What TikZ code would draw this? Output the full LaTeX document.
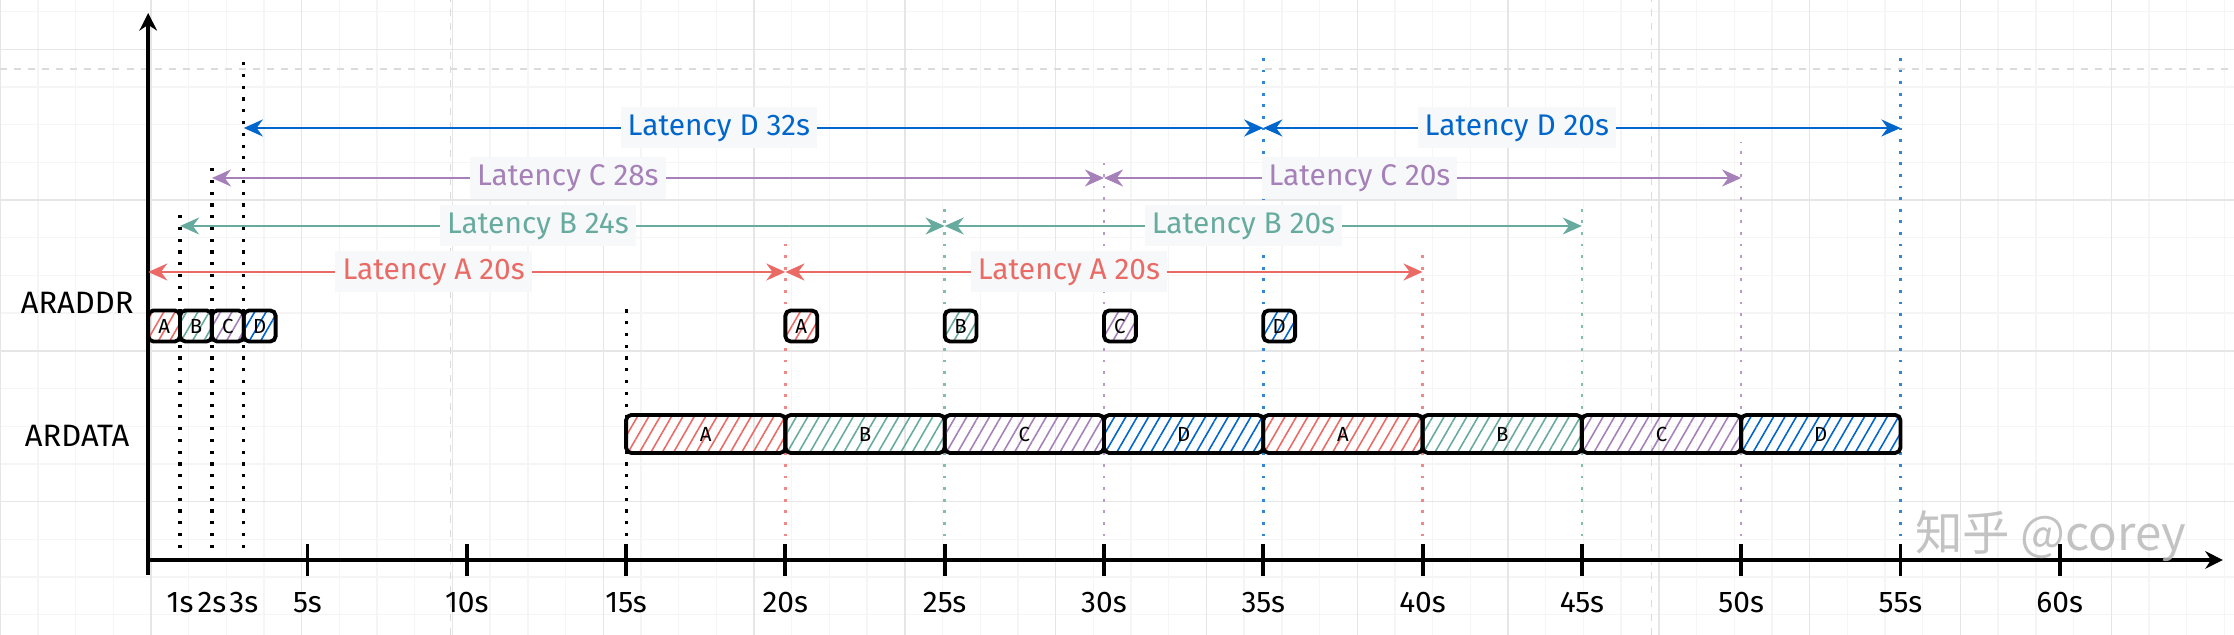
\documentclass[tikz,border=0pt]{standalone}
\usepackage{fontspec}
\setmainfont{Fira Sans}
\newfontfamily\cjkfont{Noto Sans CJK SC}
\usepackage{tikz}
\usetikzlibrary{positioning,arrows.meta,patterns.meta}
\definecolor{LatA}{RGB}{234,107,102}
\definecolor{LatB}{RGB}{103,171,159}
\definecolor{LatC}{RGB}{166,128,184}
\definecolor{LatD}{RGB}{0,102,204}
\definecolor{LabelBg}{RGB}{246,248,250}
\definecolor{GridMinor}{RGB}{245,245,245}
\definecolor{GridMajor}{RGB}{230,230,230}

\begin{document}
\begin{tikzpicture}[x=0.3186cm, y=1cm,
    axis/.style={line width=1.1pt, -{Stealth[length=5pt,width=5pt]}},
    tick/.style={line width=1.1pt},
    ticklabel/.style={font=\fontsize{8.5}{10}\selectfont},
    sig/.style={font=\fontsize{8.8}{10}\selectfont},
    lat/.style={line width=0.8pt, {Stealth[length=5.4pt,width=4.8pt]}-{Stealth[length=5.4pt,width=4.8pt]}},
    latlabel/.style={fill=LabelBg, font=\fontsize{8.5}{10}\selectfont, inner sep=2pt, minimum height=0.35cm},
    guide/.style={line width=0.9pt, dash pattern=on 0.9pt off 2.45pt},
    cguide/.style={line width=0.75pt, dash pattern=on 0.8pt off 2.5pt, #1!80},
    pageline/.style={gray!28, line width=0.3pt, dash pattern=on 2pt off 2pt},
    addrbox/.style={rectangle, draw, line width=1.1pt, rounded corners=1.5pt, minimum width=0.3186cm, minimum height=0.31cm, inner sep=0pt, font=\fontsize{5.8}{6}\selectfont},
    databox/.style={addrbox, minimum width=1.593cm, minimum height=0.38cm},
    hatch/.style={pattern={Lines[angle=60,distance=2.8pt,line width=0.45pt]}, pattern color=#1},
]
\useasboundingbox (-4.652,-0.75) rectangle (65.47,5.60);

% background grid and page lines
\begin{scope}[x=1cm, y=1cm, shift={(0.027cm,5.107cm)}]
  \draw[GridMinor, line width=0.4pt, step=0.377cm] (-1.509,-5.857) grid (20.83,0.49);
  \draw[GridMajor, line width=0.4pt, step=1.508cm] (-1.509,-5.857) grid (20.83,0.49);
\end{scope}
\draw[pageline] (-4.652,4.91) -- (65.47,4.91);
\draw[pageline] (9.50,-0.75) -- (9.50,5.60);
\draw[pageline] (47.2,-0.75) -- (47.2,5.60);

% guide lines
\draw[guide] (1,0.12) -- (1,3.48);
\draw[guide] (2,0.12) -- (2,3.97);
\draw[guide] (3,0.12) -- (3,5.00);
\draw[guide] (15,0.12) -- (15,2.58);
\draw[cguide=LatA] (20,0.12) -- (20,3.17);
\draw[cguide=LatB] (25,0.12) -- (25,3.58);
\draw[cguide=LatC] (30,0.12) -- (30,3.97);
\draw[cguide=LatD] (35,0.12) -- (35,5.10);
\draw[cguide=LatA] (40,0.12) -- (40,3.12);
\draw[cguide=LatB] (45,0.12) -- (45,3.55);
\draw[cguide=LatC] (50,0.12) -- (50,4.18);
\draw[cguide=LatD] (55,0.12) -- (55,5.10);

% axes
\coordinate (o) at (0,0);
\coordinate (xend) at (65.12,0);
\coordinate (ybot) at (0,-0.15);
\coordinate (yend) at (0,5.47);
\draw[axis] (o) -- (xend);
\draw[axis] (ybot) -- (yend);
\foreach \t in {5,10,...,60} {
    \draw[tick] (\t,-0.16) -- (\t,0.16);
    \node[ticklabel] (tl\t) at (\t,-0.43) {\t s};
}
\foreach \t in {1,2,3} {
    \node[ticklabel] (tl\t) at (\t,-0.43) {\t s};
}

% signals
\node[sig] (araddr) at (-2.23,2.575) {ARADDR};
\node[sig] (ardata) at (-2.23,1.24) {ARDATA};

\node[addrbox, hatch=LatA] (addrA1) at (0.5,2.34) {A};
\node[addrbox, hatch=LatB] (addrB1) at (1.5,2.34) {B};
\node[addrbox, hatch=LatC] (addrC1) at (2.5,2.34) {C};
\node[addrbox, hatch=LatD] (addrD1) at (3.5,2.34) {D};
\node[addrbox, hatch=LatA] (addrA2) at (20.5,2.34) {A};
\node[addrbox, hatch=LatB] (addrB2) at (25.5,2.34) {B};
\node[addrbox, hatch=LatC] (addrC2) at (30.5,2.34) {C};
\node[addrbox, hatch=LatD] (addrD2) at (35.5,2.34) {D};

\node[databox, hatch=LatA] (dataA1) at (17.5,1.26) {A};
\node[databox, hatch=LatB] (dataB1) at (22.5,1.26) {B};
\node[databox, hatch=LatC] (dataC1) at (27.5,1.26) {C};
\node[databox, hatch=LatD] (dataD1) at (32.5,1.26) {D};
\node[databox, hatch=LatA] (dataA2) at (37.5,1.26) {A};
\node[databox, hatch=LatB] (dataB2) at (42.5,1.26) {B};
\node[databox, hatch=LatC] (dataC2) at (47.5,1.26) {C};
\node[databox, hatch=LatD] (dataD2) at (52.5,1.26) {D};

% latencies
\coordinate (latD0) at (3,4.32);
\coordinate (latD1) at (35,4.32);
\coordinate (latD2) at (55,4.32);
\coordinate (latC0) at (2,3.82);
\coordinate (latC1) at (30,3.82);
\coordinate (latC2) at (50,3.82);
\coordinate (latB0) at (1,3.34);
\coordinate (latB1) at (25,3.34);
\coordinate (latB2) at (45,3.34);
\coordinate (latA0) at (0,2.88);
\coordinate (latA1) at (20,2.88);
\coordinate (latA2) at (40,2.88);

\draw[lat, LatD] (latD0) -- node[latlabel, pos=0.466] (lblD1) {Latency D 32s} (latD1);
\draw[lat, LatD] (latD1) -- node[latlabel, pos=0.398] (lblD2) {Latency D 20s} (latD2);
\draw[lat, LatC] (latC0) -- node[latlabel, pos=0.399] (lblC1) {Latency C 28s} (latC1);
\draw[lat, LatC] (latC1) -- node[latlabel, pos=0.401] (lblC2) {Latency C 20s} (latC2);
\draw[lat, LatB] (latB0) -- node[latlabel, pos=0.468] (lblB1) {Latency B 24s} (latB1);
\draw[lat, LatB] (latB1) -- node[latlabel, pos=0.469] (lblB2) {Latency B 20s} (latB2);
\draw[lat, LatA] (latA0) -- node[latlabel, pos=0.448] (lblA1) {Latency A 20s} (latA1);
\draw[lat, LatA] (latA1) -- node[latlabel, pos=0.445] (lblA2) {Latency A 20s} (latA2);

% watermark
\node[font=\cjkfont\fontsize{13.5}{16}\selectfont, text=gray!55, opacity=0.85] (mark1) at (59.72,0.24) {知乎 @corey};
\end{tikzpicture}
\end{document}
